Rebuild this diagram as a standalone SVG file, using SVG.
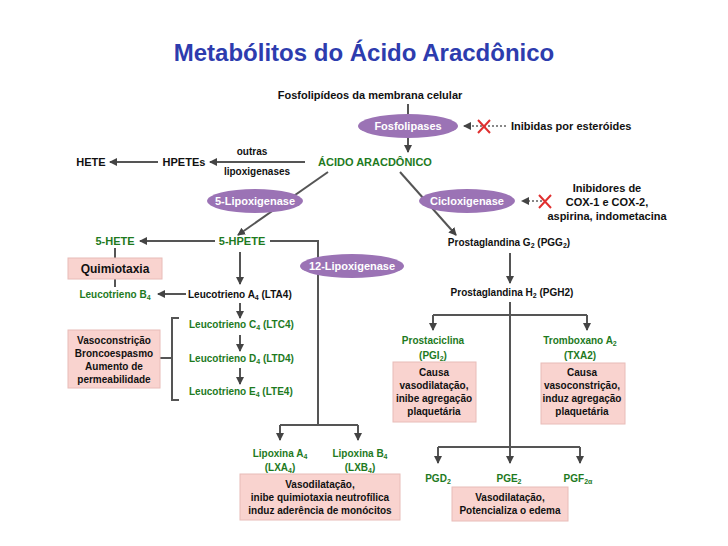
<svg xmlns="http://www.w3.org/2000/svg" width="728" height="546" viewBox="0 0 728 546">
<defs>
<marker id="ah" markerWidth="8" markerHeight="8" refX="7" refY="4" orient="auto" markerUnits="userSpaceOnUse"><path d="M0,0 L8,4 L0,8 z" fill="#444"/></marker>
</defs>
<style>
text{font-family:"Liberation Sans",Arial,sans-serif;font-weight:bold;font-size:11px;fill:#111}
.g{fill:#1e7a1e}
.s{font-size:10px}
.w{fill:#fff;font-size:11px}
.c{text-anchor:middle}
.ln{stroke:#555;stroke-width:2;fill:none}
.ar{stroke:#555;stroke-width:2;fill:none;marker-end:url(#ah)}
.dash{stroke:#888;stroke-width:2;stroke-dasharray:2,2;fill:none;marker-end:url(#ah)}
.box{fill:#f9d3cf;stroke:#e8bcb8}
.el{fill:#9b73b5}
.x{stroke:#e03030;stroke-width:2}
</style>
<rect width="728" height="546" fill="#fff"/>
<text x="364" y="61" class="c" style="font-size:24px;fill:#2d3cae">Metabólitos do Ácido Aracdônico</text>
<g id="connectors">
<path class="ar" d="M408,104 V152"/>
<path class="ar" d="M305,162 H210"/>
<path class="ar" d="M158,162 H110"/>
<path class="ar" d="M328,172 L238,235"/>
<path class="ar" d="M400,172 L456,235"/>
<path class="dash" d="M506,126 H464"/>
<path class="dash" d="M542,201 H522"/>
<path class="ar" d="M215,241 H140"/>
<path class="ln" d="M270,241 H318 V425 M280,425 H358"/>
<path class="ar" d="M280,425 V440"/>
<path class="ar" d="M358,425 V440"/>
<path class="ln" d="M115,248 V258 M115,279 V287"/>
<path class="ar" d="M240,252 V284"/>
<path class="ar" d="M186,294 H158"/>
<path class="ar" d="M240,303 V318"/>
<path class="ar" d="M240,335 V351"/>
<path class="ar" d="M240,368 V384"/>
<path class="ln" d="M179,318 H172 V400 H179 M160,358 H172"/>
<path class="ar" d="M510,253 V283"/>
<path class="ln" d="M510,302 V447"/>
<path class="ar" d="M510,447 V463"/>
<path class="ln" d="M433,315 H587"/>
<path class="ar" d="M433,315 V330"/>
<path class="ar" d="M587,315 V330"/>
<path class="ln" d="M438,447 H580"/>
<path class="ar" d="M438,447 V463"/>
<path class="ar" d="M580,447 V463"/>
<path class="x" d="M478,120 L490,133 M490,120 L478,133"/>
<path class="x" d="M539,195 L551,208 M551,195 L539,208"/>
</g>
<g id="fosfolipideos"><text x="370" y="99" class="c">Fosfolipídeos da membrana celular</text></g>
<g id="fosfolipases"><ellipse cx="408" cy="126" rx="50" ry="12" class="el"/><text x="408" y="130" class="c w">Fosfolipases</text></g>
<g id="inibidas"><text x="511" y="130">Inibidas por esteróides</text></g>
<g id="acido"><text x="375" y="166" class="c g">ÁCIDO ARACDÔNICO</text></g>
<g id="outras"><text x="252" y="155" class="c s">outras</text><text x="257" y="175" class="c s">lipoxigenases</text></g>
<g id="hpetes"><text x="184" y="166" class="c">HPETEs</text></g>
<g id="hete"><text x="91" y="166" class="c">HETE</text></g>
<g id="lox5"><ellipse cx="255" cy="201" rx="48" ry="12" class="el"/><text x="255" y="205" class="c w">5-Lipoxigenase</text></g>
<g id="cox"><ellipse cx="467" cy="201" rx="48" ry="12" class="el"/><text x="467" y="205" class="c w">Cicloxigenase</text></g>
<g id="inibidores"><text x="607" y="192" class="c">Inibidores de</text><text x="607" y="206" class="c">COX-1 e COX-2,</text><text x="607" y="220" class="c">aspirina, indometacina</text></g>
<g id="hete5"><text x="115" y="245" class="c g">5-HETE</text></g>
<g id="hpete5"><text x="242" y="245" class="c g">5-HPETE</text></g>
<g id="lox12"><ellipse cx="352" cy="266" rx="52" ry="12" class="el"/><text x="352" y="270" class="c w">12-Lipoxigenase</text></g>
<g id="quimiotaxia"><rect x="68" y="258" width="94" height="21" class="box"/><text x="115" y="273" class="c" style="font-size:12px">Quimiotaxia</text></g>
<g id="ltb4"><text x="115" y="298" class="c g s">Leucotrieno B<tspan font-size="7" dy="2">4</tspan></text></g>
<g id="lta4"><text x="188" y="298" class="s">Leucotrieno A<tspan font-size="7" dy="2">4</tspan><tspan dy="-2"> (LTA4)</tspan></text></g>
<g id="ltc4"><text x="189" y="328" class="g s">Leucotrieno C<tspan font-size="7" dy="2">4</tspan><tspan dy="-2"> (LTC4)</tspan></text></g>
<g id="ltd4"><text x="189" y="362" class="g s">Leucotrieno D<tspan font-size="7" dy="2">4</tspan><tspan dy="-2"> (LTD4)</tspan></text></g>
<g id="lte4"><text x="189" y="395" class="g s">Leucotrieno E<tspan font-size="7" dy="2">4</tspan><tspan dy="-2"> (LTE4)</tspan></text></g>
<g id="vaso"><rect x="68" y="330" width="92" height="58" class="box"/><text x="114" y="344" class="c s">Vasoconstrição</text><text x="114" y="357" class="c s">Broncoespasmo</text><text x="114" y="370" class="c s">Aumento de</text><text x="114" y="383" class="c s">permeabilidade</text></g>
<g id="pgg2"><text x="509" y="246" class="c s">Prostaglandina G<tspan font-size="7" dy="2">2</tspan><tspan dy="-2"> (PGG</tspan><tspan font-size="7" dy="2">2</tspan><tspan dy="-2">)</tspan></text></g>
<g id="pgh2"><text x="512" y="296" class="c s">Prostaglandina H<tspan font-size="7" dy="2">2</tspan><tspan dy="-2"> (PGH2)</tspan></text></g>
<g id="pgi2"><text x="433" y="344" class="c g s">Prostaciclina</text><text x="433" y="359" class="c g s">(PGI<tspan font-size="7" dy="2">2</tspan><tspan dy="-2">)</tspan></text>
<rect x="393" y="362" width="83" height="60" class="box"/><text x="434" y="376" class="c s">Causa</text><text x="434" y="389" class="c s">vasodilatação,</text><text x="434" y="402" class="c s">inibe agregação</text><text x="434" y="415" class="c s">plaquetária</text></g>
<g id="txa2"><text x="580" y="344" class="c g s">Tromboxano A<tspan font-size="7" dy="2">2</tspan></text><text x="580" y="359" class="c g s">(TXA2)</text>
<rect x="541" y="363" width="84" height="61" class="box"/><text x="582" y="376" class="c s">Causa</text><text x="582" y="389" class="c s">vasoconstrição,</text><text x="582" y="402" class="c s">induz agregação</text><text x="582" y="415" class="c s">plaquetária</text></g>
<g id="lxa4"><text x="280" y="457" class="c g s">Lipoxina A<tspan font-size="7" dy="2">4</tspan></text><text x="280" y="471" class="c g s">(LXA<tspan font-size="7" dy="2">4</tspan><tspan dy="-2">)</tspan></text></g>
<g id="lxb4"><text x="360" y="457" class="c g s">Lipoxina B<tspan font-size="7" dy="2">4</tspan></text><text x="360" y="471" class="c g s">(LXB<tspan font-size="7" dy="2">4</tspan><tspan dy="-2">)</tspan></text></g>
<g id="lxbox"><rect x="240" y="474" width="160" height="46" class="box"/><text x="320" y="488" class="c s">Vasodilatação,</text><text x="320" y="501" class="c s">inibe quimiotaxia neutrofílica</text><text x="320" y="514" class="c s">induz aderência de monócitos</text></g>
<g id="pgd2"><text x="438" y="482" class="c g s">PGD<tspan font-size="7" dy="2">2</tspan></text></g>
<g id="pge2"><text x="509" y="482" class="c g s">PGE<tspan font-size="7" dy="2">2</tspan></text></g>
<g id="pgf2a"><text x="578" y="482" class="c g s">PGF<tspan font-size="7" dy="2">2α</tspan></text></g>
<g id="pgbox"><rect x="452" y="487" width="116" height="34" class="box"/><text x="510" y="501" class="c s">Vasodilatação,</text><text x="510" y="514" class="c s">Potencializa o edema</text></g>
</svg>
